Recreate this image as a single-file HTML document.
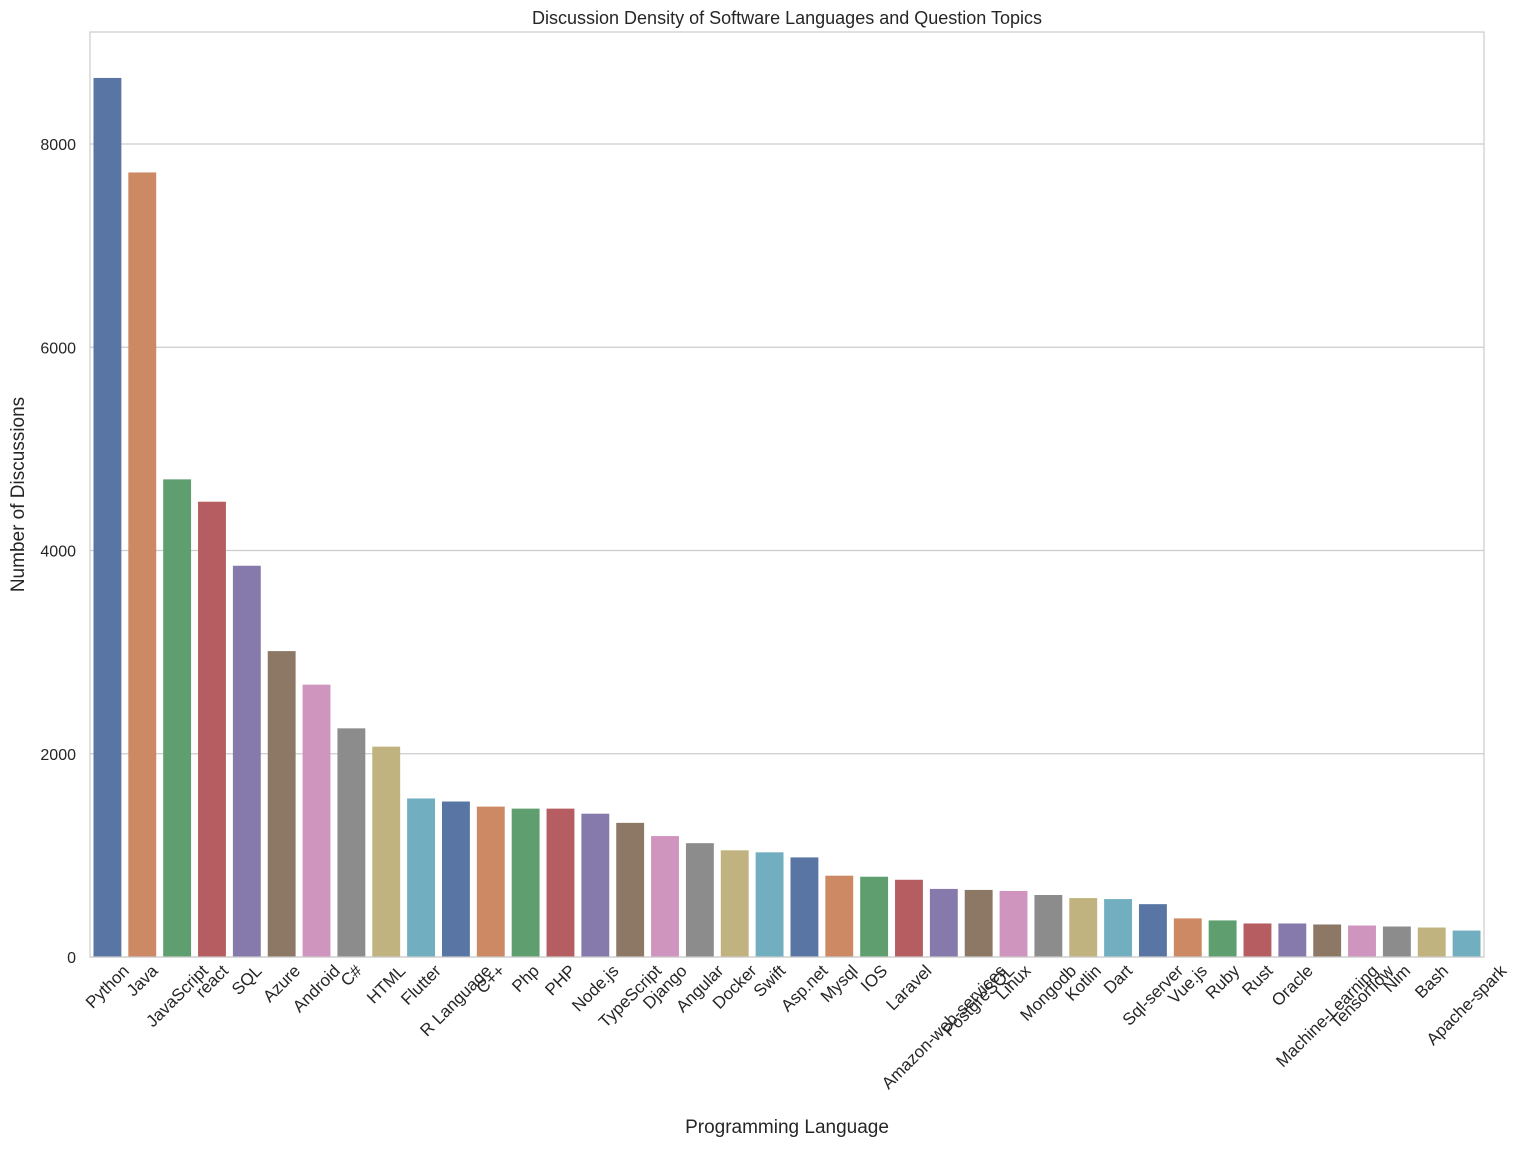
<!DOCTYPE html>
<html><head><meta charset="utf-8"><style>
body{margin:0;background:#fff;font-family:"Liberation Sans","DejaVu Sans",sans-serif;}
</style></head><body>
<svg id="chart" width="1522" height="1145" xmlns="http://www.w3.org/2000/svg" font-family="Liberation Sans, DejaVu Sans, sans-serif"></svg>
<script>
const categories=["Python","Java","JavaScript","react","SQL","Azure","Android","C#","HTML","Flutter","R Language","C++","Php","PHP","Node.js","TypeScript","Django","Angular","Docker","Swift","Asp.net","Mysql","IOS","Laravel","Amazon-web-services","PostgreSQL","Linux","Mongodb","Kotlin","Dart","Sql-server","Vue.js","Ruby","Rust","Oracle","Machine-Learning","Tensorflow","Nim","Bash","Apache-spark"];
const values=[8650,7720,4700,4480,3850,3010,2680,2250,2070,1560,1530,1480,1460,1460,1410,1320,1190,1120,1050,1030,980,800,790,760,670,660,650,610,580,570,520,380,360,330,330,320,310,300,290,260];
const yTicks=[0,2000,4000,6000,8000];
const palette=["#5975A4","#CC8963","#5F9E6E","#B55D60","#857AAB","#8D7866","#D095BF","#8C8C8C","#C1B37F","#71AEC0"];
const svg=document.getElementById('chart');
const NS="http://www.w3.org/2000/svg";
const L=90,R=1484,T=32,B=957;
const y=v=>B-(v/8000)*(B-144);
const step=(R-L)/categories.length;
const x=i=>L+step*(i+0.5);
function mk(t,a){const e=document.createElementNS(NS,t);for(const k in a)e.setAttribute(k,a[k]);svg.appendChild(e);return e;}
yTicks.forEach(v=>{
  const g=mk('line',{x1:L,x2:R,y1:y(v),y2:y(v),stroke:'#cccccc','stroke-width':1.2});
  
  
  const t=mk('text',{x:76,y:y(v)+6,'text-anchor':'end','font-size':16,fill:'#262626'});
  t.textContent=v;
  
  
});
values.forEach((v,i)=>{
  const bw=step*0.8;
  const r=mk('rect',{x:x(i)-bw/2,y:y(v),width:bw,height:B-y(v),fill:palette[i%10]});
  
  
});
const f=mk('rect',{x:L,y:T,width:R-L,height:B-T,fill:'none',stroke:'#cccccc','stroke-width':1.2});


categories.forEach((c,i)=>{
  const t=mk('text',{'font-size':17,fill:'#262626','text-anchor':'middle','dominant-baseline':'central'});
  t.textContent=c;
  
  
  const w=t.getComputedTextLength();
  const h=(w+17)*0.7071;
  const cx=x(i),cy=962+h/2;
  t.setAttribute('x',cx);t.setAttribute('y',cy);
  t.setAttribute('transform',`rotate(-45 ${cx} ${cy})`);
});
const title=mk('text',{x:(L+R)/2,y:24,'text-anchor':'middle','font-size':18,fill:'#262626'});
title.textContent="Discussion Density of Software Languages and Question Topics";


const xl=mk('text',{x:(L+R)/2,y:1133,'text-anchor':'middle','font-size':19,fill:'#262626'});
xl.textContent="Programming Language";


const yl=mk('text',{x:24,y:(T+B)/2,'text-anchor':'middle','font-size':19,fill:'#262626',transform:`rotate(-90 24 ${(T+B)/2})`});
yl.textContent="Number of Discussions";


</script>
</body></html>
